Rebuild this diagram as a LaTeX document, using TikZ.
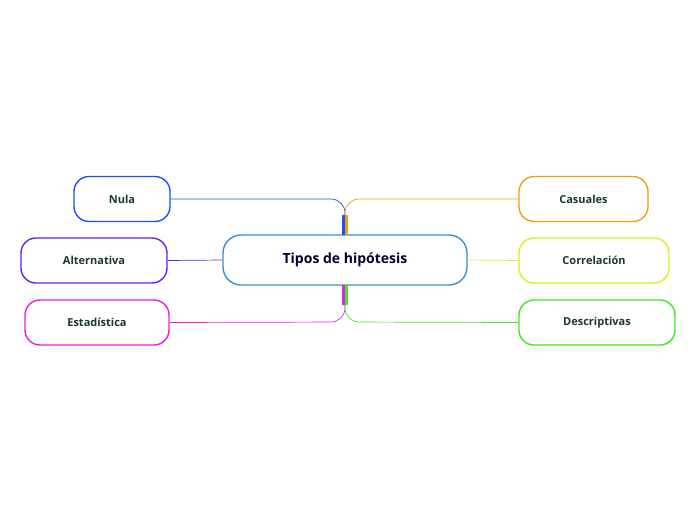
\documentclass[tikz,border=0pt]{standalone}
\usepackage{fontspec}
\setmainfont{Open Sans}
\usepackage{tikz}
\definecolor{Cmain}{HTML}{3A8FD0}
\definecolor{Cnula}{HTML}{1F4FF0}
\definecolor{Calt}{HTML}{6A1EE8}
\definecolor{Cest}{HTML}{E81EE8}
\definecolor{Ccas}{HTML}{F0A010}
\definecolor{Ccor}{HTML}{D8F020}
\definecolor{Cdes}{HTML}{40E820}
\definecolor{Ctext}{HTML}{163A2C}
\tikzset{
  topic/.style={draw, line width=1.4pt, rounded corners=15pt, minimum height=45pt, font=\bfseries\fontsize{11}{13}\selectfont, text=Ctext},
  branch/.style={line width=0.7pt, rounded corners=14pt}
}
\begin{document}
\begin{tikzpicture}[x=1pt,y=-1pt]
\useasboundingbox (0,0) rectangle (696,520);
\node[topic, minimum width=244pt, minimum height=50pt, rounded corners=18pt, draw=Cmain, text=black!80!blue, font=\bfseries\fontsize{14}{16}\selectfont] (main) at (345,260) {Tipos de hipótesis};
\node[topic, draw=Cnula, minimum width=96pt] (nula) at (122,199) {Nula};
\node[topic, draw=Calt, minimum width=146pt] (alt) at (94,260.5) {Alternativa};
\node[topic, draw=Cest, minimum width=144pt] (est) at (97,322.5) {Estadística};
\node[topic, draw=Ccas, minimum width=129pt] (cas) at (583.5,199) {Casuales};
\node[topic, draw=Ccor, minimum width=150pt] (cor) at (594,260.5) {Correlación};
\node[topic, draw=Cdes, minimum width=156pt] (des) at (597,322.5) {Descriptivas};
% branches
\draw[branch, Cnula] (main.north) -- (345,199) -- (nula.east);
\draw[branch, Ccas] (main.north) -- (345,199) -- (cas.west);
\draw[branch, Cest] (main.south) -- (345,322) -- (est.east);
\draw[branch, Cdes] (main.south) -- (345,322) -- (des.west);
\draw[branch, Calt] (alt.east) -- (main.west);
\draw[branch, Ccor] (main.east) -- (cor.west);
\draw[line width=3pt, Cnula] (343.5,235) -- (343.5,215);
\draw[line width=3pt, Ccas] (346.5,235) -- (346.5,215);
\draw[line width=3pt, Cest] (343.5,285) -- (343.5,305);
\draw[line width=3pt, Cdes] (346.5,285) -- (346.5,305);
\end{tikzpicture}
\end{document}
